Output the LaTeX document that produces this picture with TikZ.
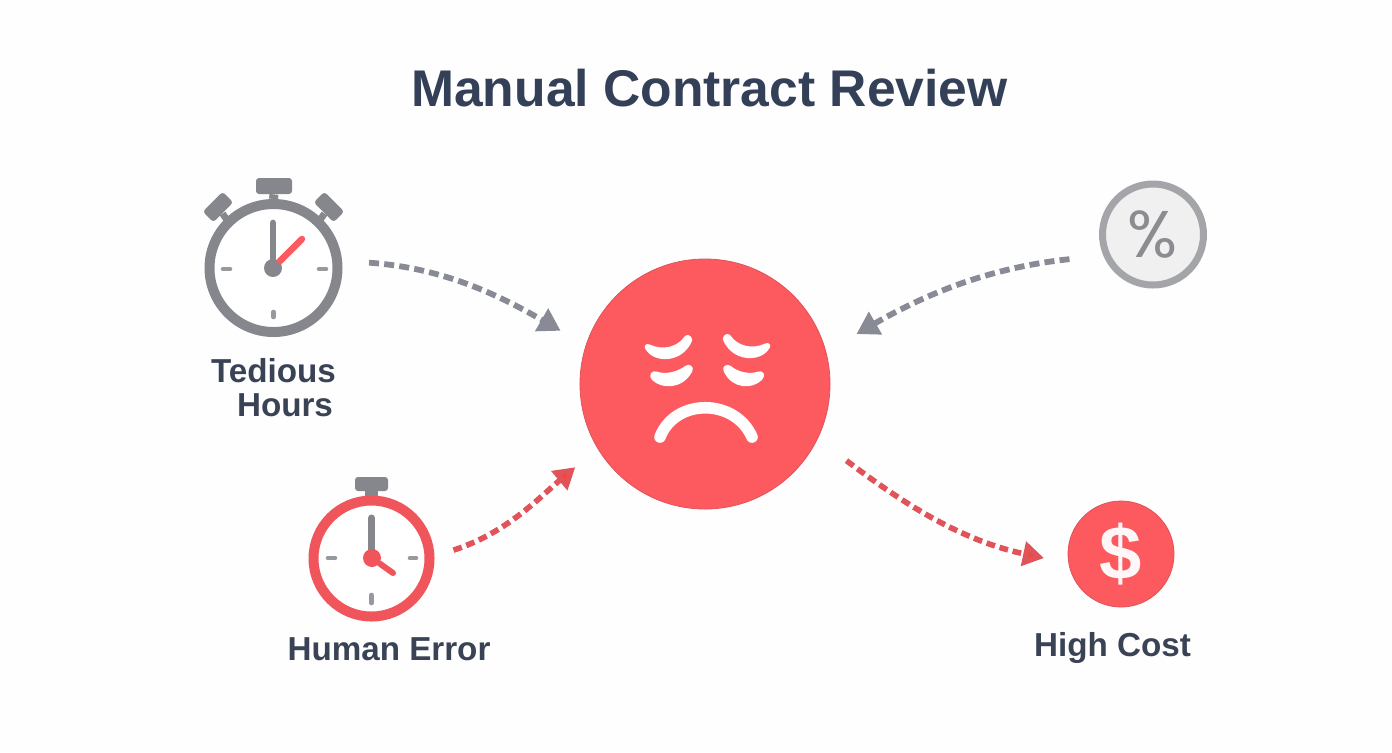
\documentclass[tikz,border=0pt]{standalone}
\usepackage{fontspec}
\setmainfont{Liberation Sans}
\newfontfamily\percentfont{Poppins}
\usetikzlibrary{arrows.meta}

\definecolor{inkdark}{HTML}{3A4356}
\definecolor{titleink}{HTML}{334058}
\definecolor{watchgray}{HTML}{85878D}
\definecolor{ringgray}{HTML}{A3A5A9}
\definecolor{softred}{HTML}{FC5A5F}
\definecolor{flowred}{HTML}{DF5359}
\definecolor{tipred}{HTML}{F2453D}
\definecolor{flowgray}{HTML}{888B96}

\tikzset{
  label text/.style = {font = \bfseries\fontsize{16.6}{17}\selectfont, text = inkdark, anchor = base, inner sep = 0pt},
  ring/.style = {circle, draw, inner sep = 0pt, fill = white},
  knob/.style = {rectangle, fill = watchgray, rounded corners = 1.5pt, inner sep = 0pt},
  hub/.style = {circle, inner sep = 0pt, minimum size = 9pt},
  tick/.style = {draw = watchgray!85, line width = 2.3pt, line cap = round},
  gray flow/.style = {draw = flowgray, line width = 2.9pt, dash pattern = on 5pt off 2.6pt, -{Triangle[length = 11pt, width = 12.5pt, fill = flowgray]}},
  red flow/.style = {draw = flowred, line width = 2.8pt, dash pattern = on 4.4pt off 2.4pt, -{Triangle[length = 10.5pt, width = 12pt, fill = tipred]}},
  sad/.style = {draw = white, line cap = round},
  brow/.style = {fill = white, draw = white, line width = 1.3pt, line join = round}
}

\begin{document}
\begin{tikzpicture}[x = 0.5pt, y = -0.5pt]

  \useasboundingbox (0, 0) rectangle (1392, 752);
  \fill [white!99.5!black] (0, 0) rectangle (1392, 752);

  \node [font = \bfseries\fontsize{25.8}{26}\selectfont, text = titleink, anchor = base, inner sep = 0pt] (title) at (709.5, 106) {Manual Contract Review};

  % centre
  \node [circle, fill = softred, draw = flowred, line width = 0.4pt, minimum size = 125pt, inner sep = 0pt] (face) at (705, 384) {};
  \path [brow] (647, 349) .. controls (655, 362) and (682, 362) .. (691, 340) .. controls (690, 335) and (686, 336) .. (685, 338) .. controls (678, 348) and (663, 352) .. (650, 346) .. controls (646, 344) and (645, 347) .. (647, 349) -- cycle;
  \path [brow] (768, 348) .. controls (760, 361) and (733, 361) .. (724, 339) .. controls (725, 334) and (729, 335) .. (730, 337) .. controls (737, 347) and (752, 351) .. (765, 345) .. controls (769, 343) and (770, 346) .. (768, 348) -- cycle;
  \path [brow] (653, 379) .. controls (662, 388) and (682, 388) .. (691, 371) .. controls (693, 367) and (689, 365) .. (686, 367) .. controls (678, 373) and (666, 376) .. (657, 373) .. controls (652, 371) and (650, 376) .. (653, 379) -- cycle;
  \path [brow] (761, 379) .. controls (752, 388) and (733, 388) .. (725, 371) .. controls (723, 367) and (727, 365) .. (730, 367) .. controls (737, 373) and (749, 376) .. (758, 373) .. controls (763, 371) and (764, 376) .. (761, 379) -- cycle;
  \draw [sad, line width = 5.8pt] (660, 437) .. controls (675, 398) and (735, 398) .. (752, 437);

  % tedious hours
  \node [knob, minimum width = 18pt, minimum height = 8pt] (topknob) at (274, 186) {};
  \node [knob, minimum width = 14pt, minimum height = 7.5pt, rotate = 45] (leftknob) at (218, 207) {};
  \node [knob, minimum width = 14pt, minimum height = 7.5pt, rotate = -45] (rightknob) at (329, 207) {};
  \draw [watchgray, line width = 3.4pt] (leftknob) -- (227, 220);
  \draw [watchgray, line width = 3.4pt] (rightknob) -- (320, 220);
  \node [ring, draw = watchgray, line width = 5pt, minimum size = 64pt] (tedious) at (273.5, 268) {};
  \draw [watchgray, line width = 4.5pt] (topknob.south) -- (tedious.north);
  \draw [tick] (223, 269) -- (230, 269);
  \draw [tick] (319, 269) -- (326, 269);
  \draw [tick] (273.5, 312) -- (273.5, 317);
  \node [hub, fill = watchgray] (tedioushub) at (273, 268) {};
  \draw [watchgray, line width = 3.4pt, line cap = round] (tedioushub) -- (273, 223);
  \draw [softred, line width = 3.2pt, line cap = round] (tedioushub) -- (302, 239);
  \node [label text] (tediouslabel) at (273.5, 382) {Tedious};
  \node [label text] (hourslabel) at (285, 416) {Hours};

  % human error
  \node [knob, minimum width = 16.5pt, minimum height = 7pt] (errorknob) at (371.5, 484) {};
  \node [ring, draw = softred!95!black, line width = 5pt, minimum size = 58pt] (error) at (371.5, 558.5) {};
  \draw [watchgray, line width = 6.5pt] (errorknob.south) -- (error.north);
  \draw [tick] (328, 558) -- (335, 558);
  \draw [tick] (410, 558) -- (416, 558);
  \draw [tick] (371.5, 595) -- (371.5, 603);
  \draw [watchgray, line width = 3.5pt, line cap = round] (371.5, 558) -- (371.5, 518);
  \node [hub, fill = softred!95!black] (errorhub) at (372, 558) {};
  \draw [softred!95!black, line width = 3pt, line cap = round] (errorhub) -- (393, 573);
  \node [label text] (errorlabel) at (389, 660) {Human Error};

  % percent
  \node [ring, draw = ringgray, fill = black!6, line width = 3.5pt, minimum size = 50.5pt, text = ringgray!85!black, font = \percentfont\fontsize{33}{33}\selectfont] (percent) at (1153, 234.5) {\%};

  % high cost
  \node [circle, fill = softred, draw = flowred, line width = 0.4pt, minimum size = 53pt, inner sep = 0pt, text = white!95!softred, font = \bfseries\fontsize{38}{38}\selectfont] (cost) at (1121, 554) {\$};
  \node [label text] (costlabel) at (1112.5, 656) {High Cost};

  % arrows
  \draw [gray flow, shorten < = 13.5pt, shorten > = 14.5pt] (tedious.6) to [out = -4, in = 150] (face.162);
  \draw [gray flow, shorten < = 17pt, shorten > = 17.5pt] (percent.203) to [out = 186, in = 30] (face.15);
  \draw [red flow, shorten < = 10pt, shorten > = 14.5pt] (error.2) to [out = 18, in = 220] (face.211);
  \draw [red flow, shorten < = 18pt, shorten > = 12.5pt] (face.-26) to [out = -37, in = 168] (cost.190);

\end{tikzpicture}
\end{document}
